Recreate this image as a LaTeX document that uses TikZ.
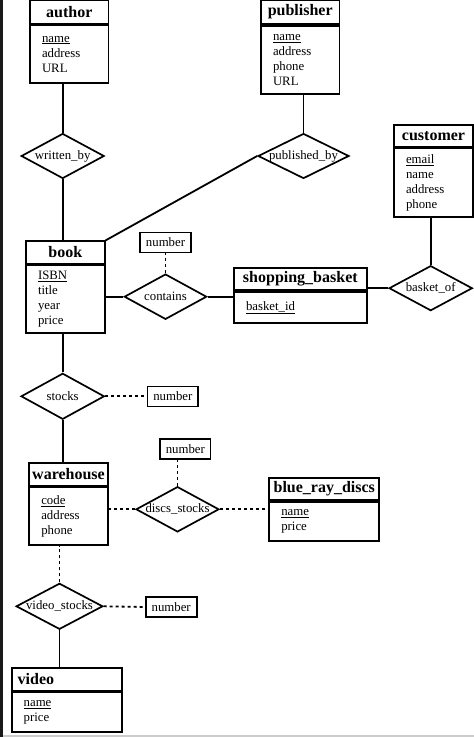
\documentclass[tikz,border=0pt]{standalone}
\usepackage{fontspec}
\setmainfont{Liberation Serif}
\usetikzlibrary{shapes.geometric}

\begin{document}
\begin{tikzpicture}[x=1pt, y=-1pt, font=\fontsize{12.8}{15}\selectfont]
   \tikzstyle{entity}=[draw, line width=1.8pt, inner sep=0pt, font=\fontsize{16}{18}\selectfont\bfseries]
   \tikzstyle{attrs}=[draw, line width=1.8pt, anchor=north, align=left, inner xsep=12pt, inner ysep=0pt]
   \tikzstyle{relation}=[draw, diamond, line width=1.7pt, inner sep=0pt]
   \tikzstyle{number}=[draw, line width=1.6pt, minimum width=51pt, minimum height=20pt, inner sep=0pt]
   \tikzstyle{link}=[line width=1.8pt]
   \tikzstyle{partial}=[line width=1.8pt, dash pattern=on 3pt off 3pt]

   \useasboundingbox (0,0) rectangle (474,737);
   \fill[black!90] (0,0) rectangle (3,737);
   \fill[black!20] (3,735) rectangle (474,737);

\node[entity, minimum width=78.5pt, minimum height=23.5pt] (author) at (69.25,11.75) {author};
\node[attrs, text width=54.5pt, minimum height=57.8pt] (authorattr) at (author.south) {\underline{name}\\address\\URL};

\node[entity, minimum width=78.5pt, minimum height=24pt] (publisher) at (300.25,12) {publisher};
\node[attrs, text width=54.5pt, minimum height=68pt] (publisherattr) at (publisher.south) {\underline{name}\\address\\phone\\URL};

\node[entity, minimum width=79pt, minimum height=21.7pt] (customer) at (433.5,135.85) {customer};
\node[attrs, text width=55pt, minimum height=68.3pt] (customerattr) at (customer.south) {\underline{email}\\name\\address\\phone};

\node[entity, minimum width=78.7pt, minimum height=22.4pt] (book) at (65.35,252.5) {book};
\node[attrs, text width=54.7pt, minimum height=67.6pt] (bookattr) at (book.south) {\underline{ISBN}\\title\\year\\price};

\node[entity, minimum width=132.7pt, minimum height=22.6pt] (basket) at (300.35,279) {shopping\_basket};
\node[attrs, text width=108.7pt, minimum height=30.7pt] (basketattr) at (basket.south) {\underline{basket\_id}};

\node[entity, minimum width=78.4pt, minimum height=22.7pt] (warehouse) at (68.5,474.35) {warehouse};
\node[attrs, text width=54.4pt, minimum height=57.6pt] (warehouseattr) at (warehouse.south) {\underline{code}\\address\\phone};

\node[entity, minimum width=110pt, minimum height=22.6pt] (blueray) at (324.3,489) {blue\_ray\_discs};
\node[attrs, text width=86pt, minimum height=39pt] (bluerayattr) at (blueray.south) {\underline{name}\\price};

\node[entity, text width=98.6pt, align=left, inner xsep=6pt, minimum height=23pt] (video) at (67,679.2) {video};
\node[attrs, text width=86.6pt, minimum height=39.3pt] (videoattr) at (video.south) {\underline{name}\\price};

\node[relation, minimum width=83pt, minimum height=45pt, label=center:written\_by] (writtenby) at (62.7,156) {};
\node[relation, minimum width=91pt, minimum height=45pt, label=center:published\_by] (publishedby) at (303.5,156) {};
\node[relation, minimum width=82.4pt, minimum height=45.3pt, label=center:contains] (contains) at (165.5,296.7) {};
\node[relation, minimum width=83.3pt, minimum height=45pt, label=center:basket\_of] (basketof) at (430.7,288.2) {};
\node[relation, minimum width=83.3pt, minimum height=46pt, label=center:stocks] (stocks) at (62.7,396.3) {};
\node[relation, minimum width=83pt, minimum height=45.3pt, label=center:discs\_stocks] (discsstocks) at (177.5,509.3) {};
\node[relation, minimum width=86.7pt, minimum height=46pt, label=center:video\_stocks] (videostocks) at (59.5,606.3) {};

\node[number] (containsnum) at (165.5,242.3) {number};
\node[number, minimum width=50.3pt] (stocksnum) at (172.8,396.3) {number};
\node[number, minimum width=50.7pt] (discsnum) at (185.3,449) {number};
\node[number] (videonum) at (171.2,607) {number};

\draw[link] (writtenby.north) -- (writtenby.north |- authorattr.south);
\draw[link] (writtenby.south) -- (writtenby.south |- book.north);
\draw[link] (publishedby.north) -- (publishedby.north |- publisherattr.south);
\draw[link] (book.north east) -- (publishedby.west);
\draw[link] (contains.west) -- (contains.west -| bookattr.east);
\draw[link] (contains.east) -- (contains.east -| basketattr.west);
\draw[partial] (contains.north) -- (contains.north |- containsnum.south);
\draw[link] (basketof.west) -- (basketof.west -| basket.east);
\draw[link] (basketof.north) -- (basketof.north |- customerattr.south);
\draw[link] (stocks.north) -- (stocks.north |- bookattr.south);
\draw[partial] (stocks.east) -- (stocksnum.west);
\draw[link] (stocks.south) -- (stocks.south |- warehouse.north);
\draw[partial] (discsstocks.west) -- (discsstocks.west -| warehouseattr.east);
\draw[partial] (discsstocks.east) -- (discsstocks.east -| bluerayattr.west);
\draw[partial] (discsstocks.north) -- (discsstocks.north |- discsnum.south);
\draw[partial] (videostocks.north) -- (videostocks.north |- warehouseattr.south);
\draw[partial] (videostocks.east) -- (videonum.west);
\draw[link] (videostocks.south) -- (videostocks.south |- video.north);

\end{tikzpicture}
\end{document}
